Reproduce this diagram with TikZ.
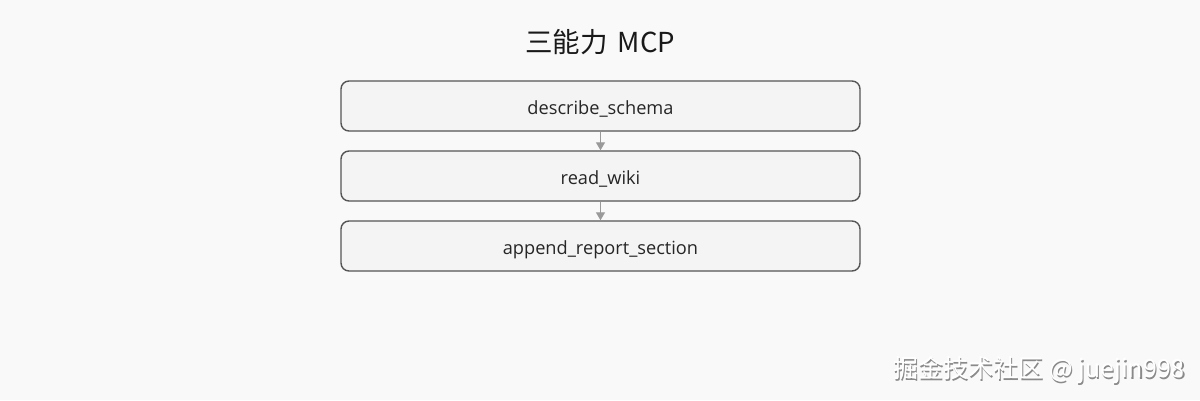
\documentclass[tikz,border=0pt]{standalone}
\usepackage{fontspec}
\setmainfont{Open Sans}
\newfontfamily\cjk{Noto Sans CJK SC}
\usetikzlibrary{arrows.meta}
\definecolor{bg}{HTML}{F9F9F9}
\definecolor{boxfill}{HTML}{F4F4F4}
\definecolor{boxline}{HTML}{555555}
\definecolor{arrowc}{HTML}{9A9A9A}
\definecolor{shadowc}{HTML}{8A8A8A}
\newcommand{\boxlabel}[1]{\raisebox{-8.3pt}[0pt][0pt]{#1}}
\tikzset{
  stepbox/.style={draw=boxline, line width=1.4pt, fill=boxfill, rounded corners=8pt,
    minimum width=519pt, minimum height=50pt, inner sep=0pt, font=\fontsize{18.2}{21}\selectfont, text=black!85},
  flow/.style={draw=arrowc, line width=1.3pt, -{Triangle[length=8pt,width=9pt]}},
  wm/.style={font=\cjk\fontsize{25}{28}\selectfont, anchor=east, inner sep=0pt}
}
\begin{document}
\begin{tikzpicture}[x=1pt,y=-1pt]
\fill[bg] (0,0) rectangle (1200,400);
\useasboundingbox (0,0) rectangle (1200,400);
\node[font=\cjk\fontsize{27.5}{30}\selectfont, text=black!90] (title) at (600,42) {三能力\hspace{4pt} MCP};
\node[stepbox] (a) at (600.5,106) {\boxlabel{describe\_schema}};
\node[stepbox] (b) at (600.5,176) {\boxlabel{read\_wiki}};
\node[stepbox] (c) at (600.5,246) {\boxlabel{append\_report\_section}};
\draw[flow] (a.south) -- (b.north);
\draw[flow] (b.south) -- (c.north);
\node[wm, text=shadowc] (wmshadow) at (1186.5,371.5) {掘金技术社区 @ juejin998};
\node[wm, text=white] (wmtext) at (1185,370) {掘金技术社区 @ juejin998};
\end{tikzpicture}
\end{document}
